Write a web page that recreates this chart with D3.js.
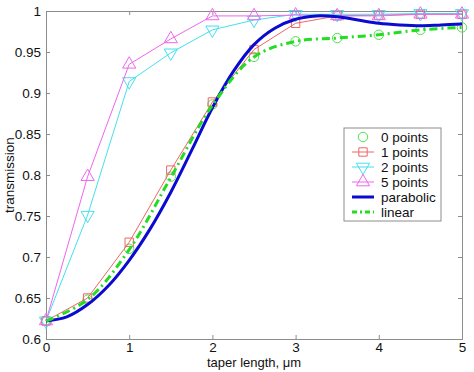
<!DOCTYPE html>
<html>
<head>
<meta charset="utf-8">
<script src="https://cdn.jsdelivr.net/npm/d3@7"></script>
<style>
  body { margin: 0; background: #fff; }
  text { font-family: "Liberation Sans", Arial, sans-serif; }
</style>
</head>
<body>
<div id="chart-area"></div>
<script>
// values
const xPts = [0, 0.5, 1, 1.5, 2, 2.5, 3, 3.5, 4, 4.5, 5]
const pts0 = [0.622, 0.648, 0.710, 0.798, 0.886, 0.944, 0.963, 0.967, 0.971, 0.977, 0.980]
const pts1 = [0.622, 0.650, 0.718, 0.806, 0.889, 0.953, 0.985, 0.994, 0.995, 0.996, 0.996]
const pts2 = [0.622, 0.751, 0.914, 0.949, 0.977, 0.989, 0.996, 0.996, 0.996, 0.997, 0.997]
const pts5 = [0.622, 0.798, 0.935, 0.966, 0.994, 0.994, 0.995, 0.994, 0.994, 0.996, 0.996]
const linear = [0.622, 0.648, 0.709, 0.797, 0.885, 0.944, 0.963, 0.967, 0.971, 0.977, 0.980]
const xPara = [0, 0.25, 0.5, 0.75, 1, 1.25, 1.5, 1.75, 2, 2.25, 2.5, 2.75, 3, 3.25, 3.5, 3.75, 4, 4.25, 4.5, 4.75, 5]
const para = [0.622, 0.627, 0.642, 0.665, 0.696, 0.734, 0.779, 0.830, 0.882, 0.926, 0.959, 0.979, 0.990, 0.994, 0.993, 0.989, 0.985, 0.983, 0.982, 0.983, 0.984]
const xTicks = [0, 1, 2, 3, 4, 5]
const yTicks = [0.6, 0.65, 0.7, 0.75, 0.8, 0.85, 0.9, 0.95, 1]

const W = 474, H = 372
const mLeft = 46, mRight = 462, mTop = 11, mBottom = 339

const svg = d3.select("#chart-area")
    .append("svg")
    .attr("width", W)
    .attr("height", H)

const x = d3.scaleLinear().domain([0, 5]).range([mLeft, mRight])
const y = d3.scaleLinear().domain([0.6, 1]).range([mBottom, mTop])

const axisColor = "#8c8c8c"

// axes box with inward ticks
svg.append("g")
    .attr("transform", `translate(0, ${mBottom})`)
    .call(d3.axisBottom(x).tickValues(xTicks).tickSize(-4).tickPadding(3).tickFormat(d => d))
svg.append("g")
    .attr("transform", `translate(0, ${mTop})`)
    .call(d3.axisTop(x).tickValues(xTicks).tickSize(-4).tickFormat(""))
svg.append("g")
    .attr("transform", `translate(${mLeft}, 0)`)
    .call(d3.axisLeft(y).tickValues(yTicks).tickSize(-4).tickPadding(5).tickFormat(d => +d.toFixed(2)))
svg.append("g")
    .attr("transform", `translate(${mRight}, 0)`)
    .call(d3.axisRight(y).tickValues(yTicks).tickSize(-4).tickFormat(""))

svg.selectAll(".domain, .tick line").attr("stroke", axisColor)
svg.selectAll(".tick text").attr("fill", "#111").style("font-size", "13.5px")

// axis labels
svg.append("text")
    .attr("x", (mLeft + mRight) / 2)
    .attr("y", 367)
    .attr("text-anchor", "middle")
    .attr("fill", "#111")
    .style("font-size", "13px")
    .text("taper length, \u03bcm")
svg.append("text")
    .attr("transform", `translate(14, ${(mTop + mBottom) / 2}) rotate(-90)`)
    .attr("text-anchor", "middle")
    .attr("fill", "#111")
    .style("font-size", "13.5px")
    .text("transmission")

const plot = svg.append("g")

const lineGen = d3.line().x(d => x(d[0])).y(d => y(d[1]))
const smoothGen = d3.line().x(d => x(d[0])).y(d => y(d[1])).curve(d3.curveCatmullRom)

const circleSym = d3.symbol().type(d3.symbolCircle).size(70)
const squareSym = d3.symbol().type(d3.symbolSquare).size(70)
const triUp = d3.symbol().type(d3.symbolTriangle).size(75)

const series = [
    { name: "0 points", vals: pts0, color: "#55dd55", line: false, sym: circleSym, rot: 0 },
    { name: "1 points", vals: pts1, color: "#ee6666", line: true, sym: squareSym, rot: 0 },
    { name: "2 points", vals: pts2, color: "#44e0ee", line: true, sym: triUp, rot: 180 },
    { name: "5 points", vals: pts5, color: "#ee66ee", line: true, sym: triUp, rot: 0 }
]

series.forEach(s => {
    const data = xPts.map((d, i) => [d, s.vals[i]])
    if (s.line) {
        plot.append("path")
            .attr("d", lineGen(data))
            .attr("fill", "none")
            .attr("stroke", s.color)
            .attr("stroke-width", 1)
    }
    plot.selectAll(null)
        .data(data)
        .enter().append("path")
        .attr("d", s.sym)
        .attr("transform", d => `translate(${x(d[0])}, ${y(d[1])}) rotate(${s.rot})`)
        .attr("fill", "none")
        .attr("stroke", s.color)
        .attr("stroke-width", 1)
})

plot.append("path")
    .attr("d", smoothGen(xPara.map((d, i) => [d, para[i]])))
    .attr("fill", "none")
    .attr("stroke", "#0a0ad0")
    .attr("stroke-width", 3)

plot.append("path")
    .attr("d", smoothGen(xPts.map((d, i) => [d, linear[i]])))
    .attr("fill", "none")
    .attr("stroke", "#22dd22")
    .attr("stroke-width", 3)
    .attr("stroke-dasharray", "8,4,2,4")

// legend
const leg = svg.append("g").attr("transform", "translate(344, 128)")
leg.append("rect")
    .attr("width", 97)
    .attr("height", 93)
    .attr("fill", "#fff")
    .attr("stroke", axisColor)

const legItems = [
    ...series,
    { name: "parabolic", color: "#0a0ad0", line: true, width: 3 },
    { name: "linear", color: "#22dd22", line: true, width: 3, dash: "5,3,2,3" }
]
legItems.forEach((s, i) => {
    const cy = 9 + i * 15
    if (s.line) {
        leg.append("line")
            .attr("x1", 8).attr("x2", 30)
            .attr("y1", cy).attr("y2", cy)
            .attr("stroke", s.color)
            .attr("stroke-width", s.width || 1)
            .attr("stroke-dasharray", s.dash || null)
    }
    if (s.sym) {
        leg.append("path")
            .attr("d", s.sym)
            .attr("transform", `translate(19, ${cy}) rotate(${s.rot})`)
            .attr("fill", "none")
            .attr("stroke", s.color)
    }
    leg.append("text")
        .attr("x", 37)
        .attr("y", cy + 5)
        .attr("fill", "#111")
        .style("font-size", "13.5px")
        .text(s.name)
})
</script>
</body>
</html>
